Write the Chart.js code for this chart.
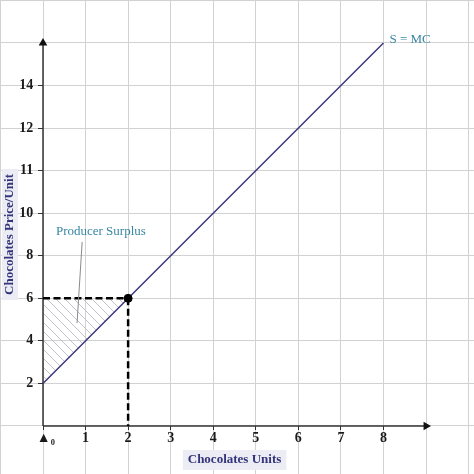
<!DOCTYPE html>
<html><head><meta charset="utf-8">
<script src="https://cdn.jsdelivr.net/npm/chart.js@4"></script>
<style>html,body{margin:0;padding:0;background:#fff}#wrap{width:474px;height:474px}</style>
</head><body><div id="wrap"><canvas id="c" width="474" height="474"></canvas></div>
<script>
// ---- data ----
const quantity = [0, 8];
const supplyPrice = [2, 18];
const eqQuantity = 2;
const eqPrice = 6;
const surplusQ = [0, 0, 2];
const surplusP = [2, 6, 6];
const xTickValues = [0, 1, 2, 3, 4, 5, 6, 7, 8];
const xTickLabels = ['▲₀', '1', '2', '3', '4', '5', '6', '7', '8'];
const yTickValues = [2, 4, 6, 8, 10, 12, 14, 16];
const yTickLabels = ['2', '4', '6', '8', '10', '11', '12', '14'];
const xGridValues = [-1, 0, 1, 2, 3, 4, 5, 6, 7, 8, 9, 10];
const yGridValues = [0, 2, 4, 6, 8, 10, 12, 14, 16, 18, 20];
const xAxisEnd = 9;
const yAxisEnd = 18;
const seriesName = 'S = MC';
const surplusName = 'Producer Surplus';
const xTitle = 'Chocolates Units';
const yTitle = 'Chocolates Price/Unit';

// annotation anchors (data space)
const surplusNote = { label: [1.36, 9.16], from: [0.92, 8.65], to: [0.8, 4.84] };

const canvas = document.getElementById('c');
const hatch = (() => {
  const n = 9;
  const c = document.createElement('canvas'); c.width = n; c.height = n;
  const g = c.getContext('2d');
  g.strokeStyle = '#c2c2c8'; g.lineWidth = 1;
  g.beginPath();
  g.moveTo(0, 0); g.lineTo(n, n);
  g.moveTo(-1, n - 1); g.lineTo(1, n + 1);
  g.moveTo(n - 1, -1); g.lineTo(n + 1, 1);
  g.stroke();
  return canvas.getContext('2d').createPattern(c, 'repeat');
})();

const pts = (xs, ys) => xs.map((v, i) => ({ x: v, y: ys[i] }));

const annot = {
  id: 'annot',
  afterDatasetsDraw(chart) {
    const { ctx, scales: { x, y } } = chart;
    ctx.save();
    // S = MC
    ctx.font = '13px "Liberation Serif"';
    ctx.fillStyle = '#3a86a1';
    ctx.textAlign = 'left'; ctx.textBaseline = 'middle';
    ctx.fillText(seriesName, x.getPixelForValue(quantity[1]) + 6, y.getPixelForValue(supplyPrice[1]) - 3);
    // Producer surplus
    ctx.textAlign = 'center';
    ctx.fillText(surplusName, x.getPixelForValue(surplusNote.label[0]), y.getPixelForValue(surplusNote.label[1]));
    ctx.strokeStyle = '#8a8a8a'; ctx.lineWidth = 1;
    ctx.beginPath();
    ctx.moveTo(x.getPixelForValue(surplusNote.from[0]), y.getPixelForValue(surplusNote.from[1]));
    ctx.lineTo(x.getPixelForValue(surplusNote.to[0]), y.getPixelForValue(surplusNote.to[1]));
    ctx.stroke();
    // axis titles
    ctx.font = 'bold 13px "Liberation Serif"';
    const x0 = x.getPixelForValue(0), y0 = y.getPixelForValue(0);
    const cx = (x0 + x.getPixelForValue(xAxisEnd)) / 2;
    const cy = (y0 + y.getPixelForValue(yAxisEnd)) / 2;
    let w = ctx.measureText(xTitle).width + 10;
    ctx.fillStyle = '#ececf4';
    ctx.fillRect(cx - w / 2, y0 + 24, w, 20);
    ctx.fillStyle = '#34347a';
    ctx.textAlign = 'center'; ctx.textBaseline = 'middle';
    ctx.fillText(xTitle, cx, y0 + 34);
    ctx.translate(x0 - 33, cy);
    ctx.rotate(-Math.PI / 2);
    w = ctx.measureText(yTitle).width + 10;
    ctx.fillStyle = '#ececf4';
    ctx.fillRect(-w / 2, -8, w, 16);
    ctx.fillStyle = '#34347a';
    ctx.fillText(yTitle, 0, 0);
    ctx.restore();
  }
};

const lblX = v => { const i = xTickValues.indexOf(v); return i >= 0 ? xTickLabels[i] : ''; };
const lblY = v => { const i = yTickValues.indexOf(v); return i >= 0 ? yTickLabels[i] : ''; };
const gap = '\u2002\u2009';
const noPad = s => { s.paddingTop = 0; s.paddingBottom = 0; s.paddingLeft = 0; s.paddingRight = 0; };

new Chart(canvas, {
  type: 'line',
  data: {
    datasets: [
      { label: 'surplus', data: pts(surplusQ, surplusP), fill: 'shape', backgroundColor: hatch,
        borderWidth: 0, borderColor: 'rgba(0,0,0,0)', pointRadius: 0, order: 5 },
      { label: 'yaxis', data: pts([0, 0], [0, yAxisEnd]), borderColor: '#333', borderWidth: 1.5,
        pointRadius: [0, 5], pointStyle: 'triangle', pointBackgroundColor: '#111', pointBorderColor: '#111',
        pointBorderWidth: 0, pointRotation: 0, fill: false, order: 4 },
      { label: 'xaxis', data: pts([0, xAxisEnd], [0, 0]), borderColor: '#333', borderWidth: 1.5,
        pointRadius: [0, 5], pointStyle: 'triangle', pointBackgroundColor: '#111', pointBorderColor: '#111',
        pointBorderWidth: 0, pointRotation: 90, fill: false, order: 4 },
      { label: 'hline', data: pts([0, eqQuantity], [eqPrice, eqPrice]), borderColor: '#000', borderWidth: 2.5,
        borderDash: [7, 3.5], pointRadius: 0, fill: false, order: 3 },
      { label: 'vline', data: pts([eqQuantity, eqQuantity], [eqPrice, 0]), borderColor: '#000', borderWidth: 2.5,
        borderDash: [7, 3.5], pointRadius: 0, fill: false, order: 3 },
      { label: seriesName, data: pts(quantity, supplyPrice), borderColor: '#3b3878', borderWidth: 1.5,
        pointRadius: 0, fill: false, order: 2 },
      { label: 'eq', data: pts([eqQuantity], [eqPrice]), showLine: false, pointRadius: 4,
        pointBackgroundColor: '#000', pointBorderColor: '#000', order: 1 }
    ]
  },
  options: {
    responsive: false,
    animation: false,
    parsing: false,
    layout: { padding: 0, autoPadding: false },
    plugins: { legend: { display: false }, tooltip: { enabled: false }, title: { display: false } },
    scales: {
      x: {
        type: 'linear', min: -1.0104, max: 10.127,
        position: { y: 0 },
        afterBuildTicks: s => { s.ticks = xGridValues.map(v => ({ value: v })); },
        afterFit: noPad,
        border: { display: false },
        grid: { color: '#d2d2d2', lineWidth: 1, drawTicks: true, tickLength: 4,
          tickColor: c => (c.tick && lblX(c.tick.value) !== '' ? '#333' : 'rgba(0,0,0,0)') },
        ticks: { autoSkip: false, maxRotation: 0, padding: 0, color: '#1a1a1a',
          font: { family: 'Liberation Serif', weight: 'bold', size: 14 },
          callback: v => { const l = lblX(v); return v === 0 ? '\u2009\u2009' + l : l; } }
      },
      y: {
        type: 'linear', min: -2.256, max: 20.02,
        position: { x: 0 },
        afterBuildTicks: s => { s.ticks = yGridValues.map(v => ({ value: v })); },
        afterFit: noPad,
        border: { display: false },
        grid: { color: '#d2d2d2', lineWidth: 1, drawTicks: true, tickLength: 5,
          tickColor: c => (c.tick && lblY(c.tick.value) !== '' ? '#333' : 'rgba(0,0,0,0)') },
        ticks: { autoSkip: false, padding: 3, color: '#1a1a1a',
          font: { family: 'Liberation Serif', weight: 'bold', size: 14 },
          callback: v => { const l = lblY(v); return l === '' ? '' : l + gap; } }
      }
    }
  },
  plugins: [annot]
});
</script></body></html>
